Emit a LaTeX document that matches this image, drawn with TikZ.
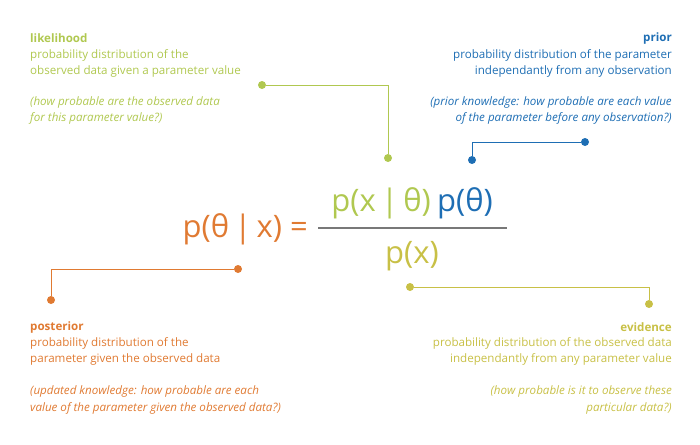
\documentclass[tikz,border=0pt]{standalone}
\usepackage{fontspec}
\setmainfont{Open Sans}
\definecolor{clik}{RGB}{176,200,80}
\definecolor{cpri}{RGB}{30,110,180}
\definecolor{cpos}{RGB}{224,122,50}
\definecolor{cevi}{RGB}{200,192,70}
\definecolor{cbar}{RGB}{120,120,120}
\begin{document}
\begin{tikzpicture}[x=1pt,y=-1pt,
  txt/.style={inner sep=0pt,font=\fontsize{11.6}{14}\selectfont},
  ttl/.style={txt,font=\fontsize{11.6}{14}\selectfont\bfseries},
  itx/.style={txt,font=\fontsize{11.6}{14}\selectfont\itshape},
  dot/.style={circle,fill,inner sep=0pt,minimum size=8pt},
  conn/.style={line width=1pt},
  eq/.style={inner sep=0pt,font=\fontsize{31}{36}\selectfont}]
\useasboundingbox (0,0) rectangle (700,444);
% likelihood
\node[ttl,text=clik,anchor=west] (lt) at (30,38) {likelihood};
\node[txt,text=clik,anchor=west] (l1) at (30,55) {probability distribution of the};
\node[txt,text=clik,anchor=west] (l2) at (30,71) {observed data given a parameter value};
\node[itx,text=clik,anchor=west] (l3) at (30,102) {(how probable are the observed data};
\node[itx,text=clik,anchor=west] (l4) at (30,118) {for this parameter value?)};
\node[dot,clik] (ld1) at (262,85) {};
\node[dot,clik] (ld2) at (388,158) {};
\draw[conn,clik] (ld1) -| (ld2);
% prior
\node[ttl,text=cpri,anchor=east] (pt) at (672,38) {prior};
\node[txt,text=cpri,anchor=east] (p1) at (672,55) {probability distribution of the parameter};
\node[txt,text=cpri,anchor=east] (p2) at (672,71) {independantly from any observation};
\node[itx,text=cpri,anchor=east] (p3) at (672,102) {(prior knowledge: how probable are each value};
\node[itx,text=cpri,anchor=east] (p4) at (672,118) {of the parameter before any observation?)};
\node[dot,cpri] (pd1) at (585,142) {};
\node[dot,cpri] (pd2) at (472,160) {};
\draw[conn,cpri] (pd1) -| (pd2);
% equation
\node[eq,text=cpos,anchor=east] (lhs) at (308,229) {p(θ\,|\,x) =};
\coordinate (b1) at (318,228);
\coordinate (b2) at (507,228);
\draw[cbar,line width=1.2pt] (b1) -- (b2);
\node[eq,text=clik,anchor=east] (num1) at (431,203) {p(x\,|\,θ)};
\node[eq,text=cpri,anchor=west] (num2) at (437,203) {p(θ)};
\node[eq,text=cevi] (den) at (412,256) {p(x)};
% posterior
\node[dot,cpos] (sd1) at (238,269) {};
\node[dot,cpos] (sd2) at (51,300) {};
\draw[conn,cpos] (sd1) -| (sd2);
\node[ttl,text=cpos,anchor=west] (st) at (30,327) {posterior};
\node[txt,text=cpos,anchor=west] (s1) at (30,343) {probability distribution of the};
\node[txt,text=cpos,anchor=west] (s2) at (30,359) {parameter given the observed data};
\node[itx,text=cpos,anchor=west] (s3) at (30,391) {(updated knowledge: how probable are each};
\node[itx,text=cpos,anchor=west] (s4) at (30,408) {value of the parameter given the observed  data?)};
% evidence
\node[dot,cevi] (ed1) at (410,287) {};
\node[dot,cevi] (ed2) at (649,304) {};
\draw[conn,cevi] (ed1) -| (ed2);
\node[ttl,text=cevi,anchor=east] (et) at (672,327) {evidence};
\node[txt,text=cevi,anchor=east] (e1) at (672,343) {probability distribution of the observed data};
\node[txt,text=cevi,anchor=east] (e2) at (672,359) {independantly from any parameter value};
\node[itx,text=cevi,anchor=east] (e3) at (672,391) {(how probable is it to observe these};
\node[itx,text=cevi,anchor=east] (e4) at (672,408) {particular data?)};
\end{tikzpicture}
\end{document}
